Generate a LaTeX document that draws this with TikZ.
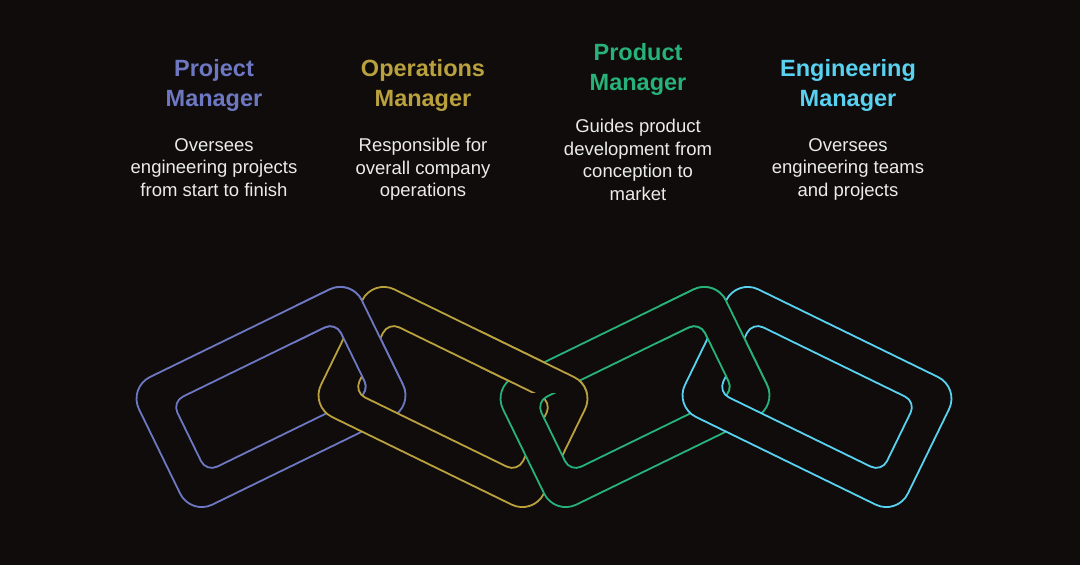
\documentclass[tikz,border=0pt]{standalone}
\usepackage{fontspec}
\setmainfont{Liberation Sans}
\definecolor{bg}{HTML}{0F0C0B}
\definecolor{cA}{HTML}{6E78C2}
\definecolor{cB}{HTML}{B9A13E}
\definecolor{cC}{HTML}{27B27A}
\definecolor{cD}{HTML}{58D2F0}
\begin{document}
\begin{tikzpicture}[x=1pt,y=-1pt,
  ttl/.style={font=\bfseries\fontsize{23.5}{30}\selectfont,align=center,anchor=north},
  bdy/.style={text=white!92!black,font=\fontsize{18.5}{22.5}\selectfont,align=center,anchor=north}]
\fill[bg] (0,0) rectangle (1080,565);
\useasboundingbox (0,0) rectangle (1080,565);
\newcommand{\lnk}[3]{%
  \begin{scope}[shift={(#1,397)},rotate=#2]
  \path[even odd rule,fill=bg,draw=#3,line width=1.8pt]
    [rounded corners=24] (-124,-71) rectangle (124,71)
    [rounded corners=12] (-91,-39) rectangle (91,39);
  \end{scope}}
\lnk{271}{26}{cA}
\lnk{453}{-26}{cB}
\begin{scope}\clip (295,270) rectangle (425,392);\lnk{271}{26}{cA}\end{scope}
\lnk{635}{26}{cC}
\begin{scope}\clip (480,270) rectangle (610,392);\lnk{453}{-26}{cB}\end{scope}
\lnk{817}{-26}{cD}
\begin{scope}\clip (660,270) rectangle (790,392);\lnk{635}{26}{cC}\end{scope}
\node[ttl,text=cA] (t1) at (214,56) {Project\\Manager};
\node[bdy] (b1) at (214,135) {Oversees\\engineering projects\\from start to finish};
\node[ttl,text=cB] (t2) at (423,56) {Operations\\Manager};
\node[bdy] (b2) at (423,135) {Responsible for\\overall company\\operations};
\node[ttl,text=cC] (t3) at (638,40) {Product\\Manager};
\node[bdy] (b3) at (638,116) {Guides product\\development from\\conception to\\market};
\node[ttl,text=cD] (t4) at (848,56) {Engineering\\Manager};
\node[bdy] (b4) at (848,135) {Oversees\\engineering teams\\and projects};
\end{tikzpicture}
\end{document}
